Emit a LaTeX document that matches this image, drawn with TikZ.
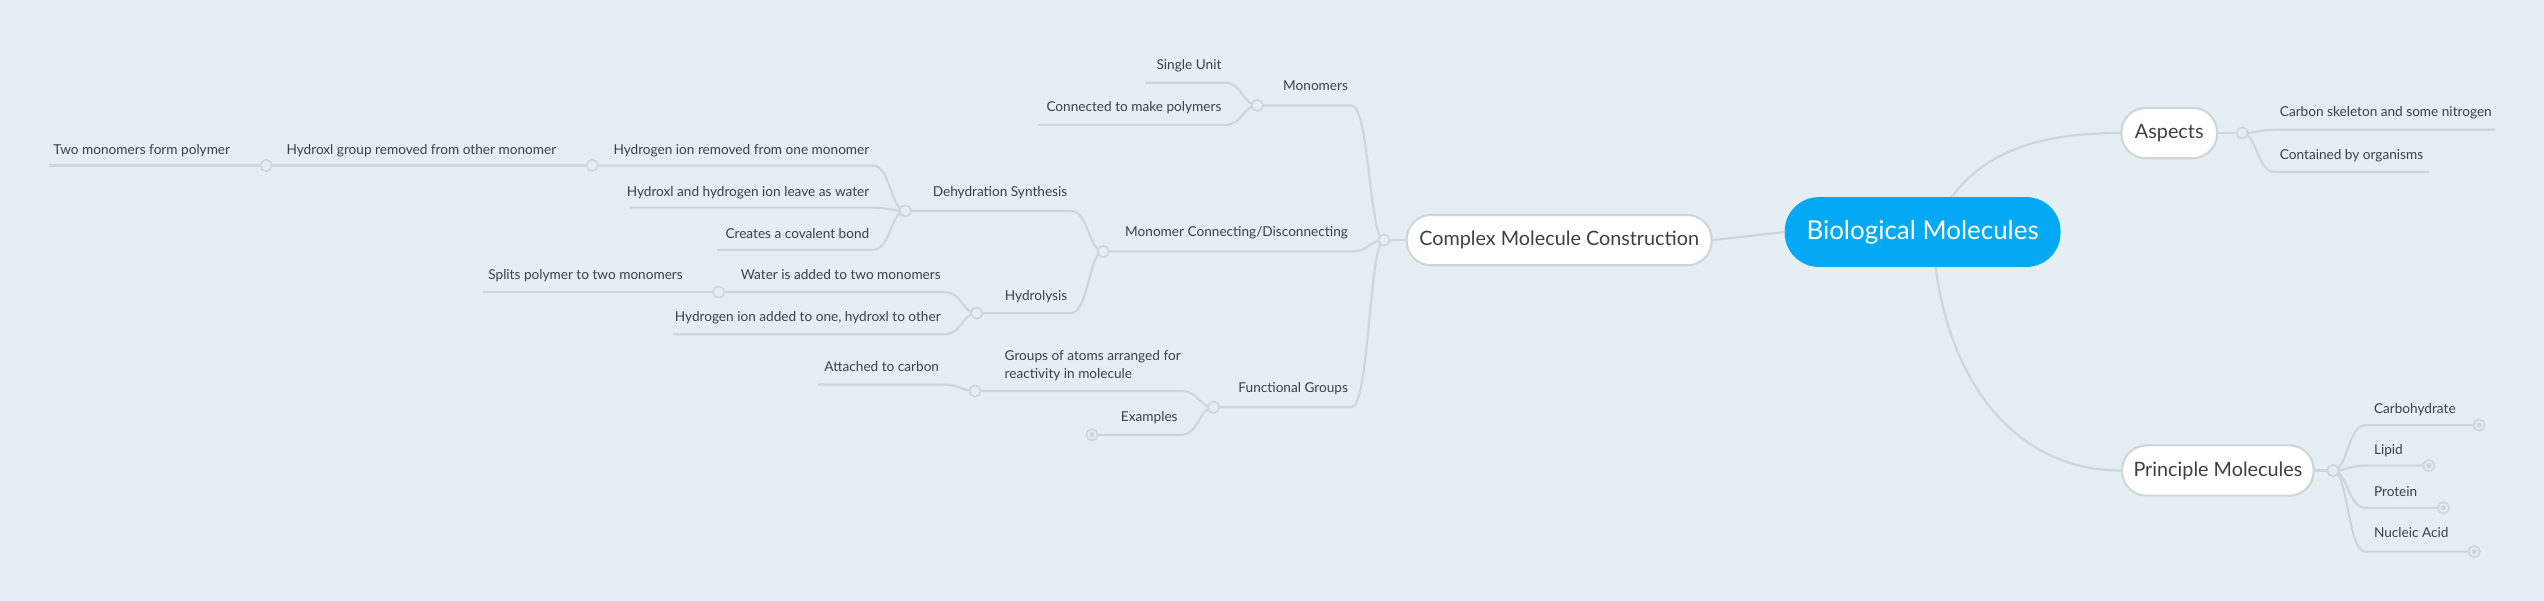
\documentclass[tikz,border=0pt]{standalone}
\usepackage{fontspec}
\setmainfont{Lato}
\usetikzlibrary{calc}
\definecolor{bgc}{HTML}{E5EEF2}
\definecolor{linec}{HTML}{CFD6DA}
\definecolor{txtc}{HTML}{3C4146}
\definecolor{rootc}{HTML}{03A9F4}
\tikzset{
  conn/.style={draw=linec,line width=1.3pt},
  jn/.style={circle,draw=linec,fill=bgc,line width=1pt,minimum size=7pt,inner sep=0pt},
  lbl/.style={font=\fontsize{8.4}{11}\selectfont,text=txtc,inner sep=0pt},
  topic/.style={rounded corners=15pt,draw=linec,line width=1.3pt,fill=white,text=txtc,font=\fontsize{12.2}{14}\selectfont,inner sep=0pt,minimum height=31pt},
  rootbox/.style={rounded corners=21pt,fill=rootc,text=white,font=\fontsize{16}{18}\selectfont,minimum width=170pt,minimum height=43pt,inner sep=0pt},
}
\newcommand\lb[2]{\draw[conn] let \p1=(#1), \p2=(#2) in (\p1) .. controls (\x1-9pt,\y1) and (\x1-9pt,\y2) .. (\x1-20pt,\y2) -- (\p2);}
\newcommand\rb[2]{\draw[conn] let \p1=(#1), \p2=(#2) in (\p1) .. controls (\x1+9pt,\y1) and (\x1+9pt,\y2) .. (\x1+20pt,\y2) -- (\p2);}
\begin{document}
\begin{tikzpicture}[x=1pt,y=-1pt]
\fill[bgc] (0,0) rectangle (1568,370.4);
\useasboundingbox (0,0) rectangle (1568,370.4);
% main nodes
\node[rootbox] (R) at (1185,143) {Biological Molecules};
\node[topic,minimum width=188pt] (C) at (961,148) {Complex Molecule Construction};
\node[topic,minimum width=59pt] (A) at (1337,82) {Aspects};
\node[topic,minimum width=118pt] (P) at (1367,290) {Principle Molecules};
% junctions
\coordinate (jC) at (853,148);
\coordinate (jA) at (1382,82);
\coordinate (jP) at (1438,290);
\coordinate (jMon) at (775,65);
\coordinate (jMCD) at (680,155);
\coordinate (jDS) at (558,130);
\coordinate (jHR) at (365,102);
\coordinate (jHG) at (164,102);
\coordinate (jHy) at (602,193);
\coordinate (jWA) at (443,180);
\coordinate (jFG) at (748,251);
\coordinate (jGA) at (601,241);
% leaf ends
\coordinate (lSU) at (706,51);
\coordinate (lCP) at (640,77);
\coordinate (lTM) at (30,102);
\coordinate (lHW) at (388,128);
\coordinate (lCB) at (442,154);
\coordinate (lSP) at (298,180);
\coordinate (lHA) at (415,206);
\coordinate (lAC) at (504,237);
\coordinate (lEx) at (673,268);
\coordinate (rCS) at (1538,80);
\coordinate (rCO) at (1497,106);
\coordinate (rCa) at (1528,262);
\coordinate (rLi) at (1497,287);
\coordinate (rPr) at (1506,313);
\coordinate (rNA) at (1525,340);
% root connectors
\draw[conn] (C.east) -- (R.west);
\draw[conn] (R.north) ++(18,0) coordinate (Rn) (Rn) .. controls (1228,88) and (1268,82) .. (A.west);
\draw[conn] (R.south) ++(8,0) coordinate (Rs) (Rs) .. controls (1203,240) and (1245,290) .. (P.west);
\draw[conn] (C.west) -- (jC);
\draw[conn] (A.east) -- (jA);
\draw[conn] (P.east) -- (jP);
% left tree
\lb{jC}{jMon} \lb{jC}{jMCD} \lb{jC}{jFG}
\lb{jMon}{lSU} \lb{jMon}{lCP}
\lb{jMCD}{jDS} \lb{jMCD}{jHy}
\lb{jDS}{jHR} \lb{jDS}{lHW} \lb{jDS}{lCB}
\lb{jHR}{jHG} \lb{jHG}{lTM}
\lb{jHy}{jWA} \lb{jHy}{lHA} \lb{jWA}{lSP}
\lb{jFG}{jGA} \lb{jFG}{lEx} \lb{jGA}{lAC}
% right tree
\rb{jA}{rCS} \rb{jA}{rCO}
\rb{jP}{rCa} \rb{jP}{rLi} \rb{jP}{rPr} \rb{jP}{rNA}
% junction circles
\foreach \j in {jC,jA,jP,jMon,jMCD,jDS,jHR,jHG,jHy,jWA,jFG,jGA}
  \node[jn] (n\j) at (\j) {};
% collapsed markers
\foreach \m in {lEx,rCa,rLi,rPr,rNA}{
  \node[jn] (m\m) at (\m) {};
  \fill[linec] (\m) circle (1.6pt);
}
% labels (left)
\node[lbl,anchor=base east] (tMon) at (831,56) {Monomers};
\node[lbl,anchor=base east] (tMCD) at (831,146) {Monomer Connecting/Disconnecting};
\node[lbl,anchor=base east] (tFG) at (831,242) {Functional Groups};
\node[lbl,anchor=base east] (tSU) at (753,43) {Single Unit};
\node[lbl,anchor=base east] (tCP) at (753,69) {Connected to make polymers};
\node[lbl,anchor=base east] (tDS) at (658,121) {Dehydration Synthesis};
\node[lbl,anchor=base east] (tHy) at (658,185) {Hydrolysis};
\node[lbl,anchor=base east] (tHR) at (536,95) {Hydrogen ion removed from one monomer};
\node[lbl,anchor=base east] (tHW) at (536,121) {Hydroxl and hydrogen ion leave as water};
\node[lbl,anchor=base east] (tCB) at (536,147) {Creates a covalent bond};
\node[lbl,anchor=base east] (tHG) at (343,95) {Hydroxl group removed from other monomer};
\node[lbl,anchor=base east] (tTM) at (142,95) {Two monomers form polymer};
\node[lbl,anchor=base east] (tWA) at (580,172) {Water is added to two monomers};
\node[lbl,anchor=base east] (tHA) at (580,198) {Hydrogen ion added to one, hydroxl to other};
\node[lbl,anchor=base east] (tSP) at (421,172) {Splits polymer to two monomers};
\node[lbl,anchor=south west,align=left] (tGA) at (619,235) {Groups of atoms arranged for\\reactivity in molecule};
\node[lbl,anchor=base east] (tEx) at (726,260) {Examples};
\node[lbl,anchor=base east] (tAC) at (579,229) {Attached to carbon};
% labels (right)
\node[lbl,anchor=base west] (tCS) at (1405,72) {Carbon skeleton and some nitrogen};
\node[lbl,anchor=base west] (tCO) at (1405,98) {Contained by organisms};
\node[lbl,anchor=base west] (tCa) at (1463,255) {Carbohydrate};
\node[lbl,anchor=base west] (tLi) at (1463,280) {Lipid};
\node[lbl,anchor=base west] (tPr) at (1463,306) {Protein};
\node[lbl,anchor=base west] (tNA) at (1463,331) {Nucleic Acid};
\end{tikzpicture}
\end{document}
